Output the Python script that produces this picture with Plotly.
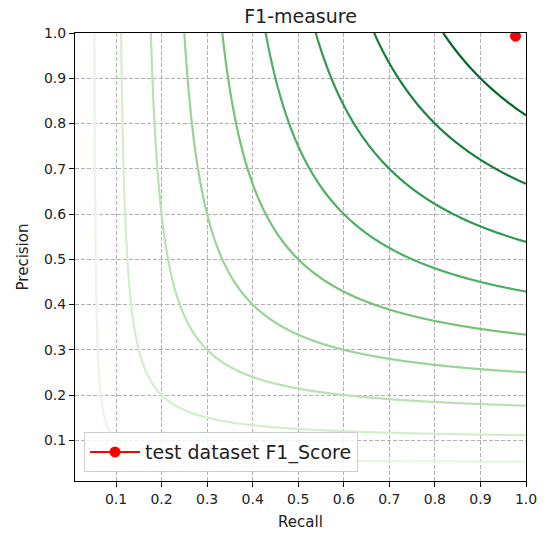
import numpy as np
import plotly.graph_objects as go
import plotly.colors as pc

# F1 iso-curves over the recall / precision plane
f1_levels = [0.1, 0.2, 0.3, 0.4, 0.5, 0.6, 0.7, 0.8, 0.9]
axis_min = 0.01
axis_max = 1.0
tick_vals = [0.1, 0.2, 0.3, 0.4, 0.5, 0.6, 0.7, 0.8, 0.9, 1.0]

# measured point
test_recall = [0.977]
test_precision = [0.993]
test_name = "test dataset F1_Score"

recall = np.linspace(axis_min, axis_max, 300)
precision = np.linspace(axis_min, axis_max, 300)
R, P = np.meshgrid(recall, precision)
f1 = 2 * P * R / (P + R)

# matplotlib-like Greens, sampled where the levels fall on 0..1
greens = pc.sample_colorscale(pc.sequential.Greens, f1_levels)
cscale = [[i / (len(greens) - 1), c] for i, c in enumerate(greens)]

font = "DejaVu Sans"

fig = go.Figure()
fig.add_trace(go.Contour(
    x=recall, y=precision, z=f1,
    contours=dict(start=f1_levels[0], end=f1_levels[-1],
                  size=0.1, coloring="lines", showlabels=False),
    colorscale=cscale, showscale=False,
    line=dict(width=2.2, smoothing=1),
    hoverinfo="skip", showlegend=False,
))
fig.add_trace(go.Scatter(
    x=test_recall, y=test_precision, name=test_name,
    mode="lines+markers",
    line=dict(color="red", width=2),
    marker=dict(color="red", size=11),
    cliponaxis=True,
))

axis_common = dict(
    range=[axis_min, axis_max], tickvals=tick_vals, tickformat=".1f",
    showgrid=True, gridcolor="#b0b0b0", griddash="4px,2px", gridwidth=1,
    zeroline=False, showline=True, linecolor="black", linewidth=1,
    mirror=True, ticks="outside", ticklen=5, tickcolor="black",
    tickfont=dict(size=14, color="#222"),
)

fig.update_layout(
    width=550, height=541,
    margin=dict(l=75, r=24, t=33, b=60),
    paper_bgcolor="white", plot_bgcolor="white",
    font=dict(family=font, color="#222"),
    title=dict(text="F1-measure", x=0.5, xref="paper", xanchor="center",
               y=1 - 16 / 541, yref="container", yanchor="middle",
               font=dict(size=19, color="#222")),
    xaxis=dict(axis_common, title=dict(text="Recall", standoff=10,
                                       font=dict(size=15))),
    yaxis=dict(axis_common, title=dict(text="Precision", standoff=11,
                                       font=dict(size=15))),
    legend=dict(x=0.02, y=0.02, xanchor="left", yanchor="bottom",
                bgcolor="rgba(255,255,255,0.8)", bordercolor="#cccccc",
                borderwidth=1, font=dict(size=19, color="#222"),
                itemwidth=50),
    showlegend=True,
)

# drop the browser's default page margin so the figure sits at 0,0
fig.write_html("out.html", config={"displayModeBar": False},
               post_script="document.body.style.margin='0';")
